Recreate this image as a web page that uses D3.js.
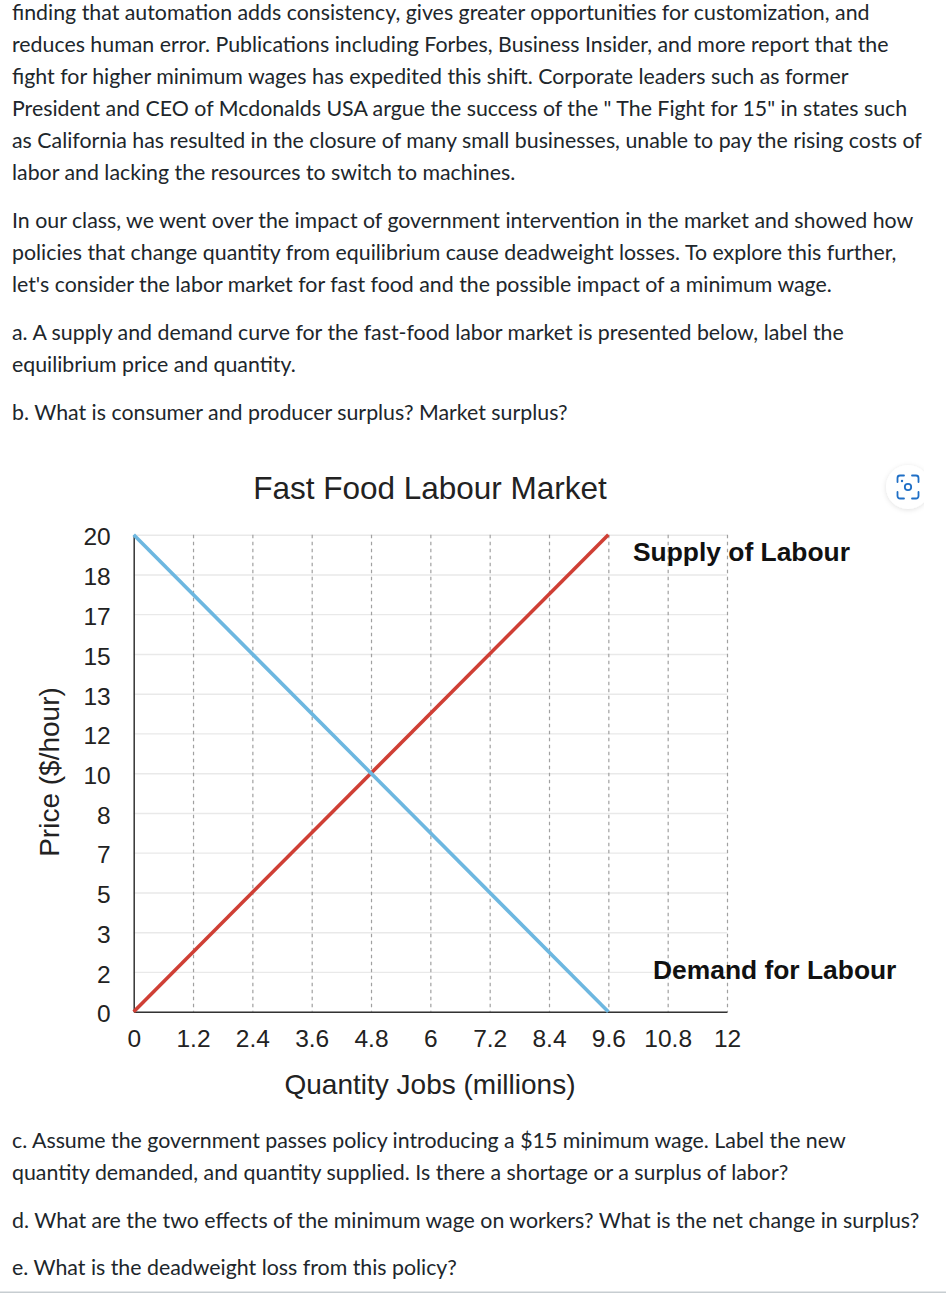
<!DOCTYPE html>
<html>
<head>
<meta charset="utf-8">
<script src="https://cdn.jsdelivr.net/npm/d3@7"></script>
<style>
  html, body { margin: 0; padding: 0; background: #fff; }
  svg { display: block; }
  .para { font-family: Lato, sans-serif; font-size: 21.33px; fill: #20262b; }
  .chart text { font-family: "Liberation Sans", Arial, sans-serif; fill: #222; }
</style>
</head>
<body>
<svg id="page" width="946" height="1296"></svg>
<script>
// Values
const quantityTicks = [0, 1.2, 2.4, 3.6, 4.8, 6, 7.2, 8.4, 9.6, 10.8, 12];
const priceTicks = [0, 1.67, 3.33, 5, 6.67, 8.33, 10, 11.67, 13.33, 15, 16.67, 18.33, 20];
const supplyQuantity = [0, 9.6];
const supplyPrice = [0, 20];
const demandQuantity = [0, 9.6];
const demandPrice = [20, 0];

// The question text around the chart, one list per paragraph
const paragraphsAbove = [
  [
    "finding that automation adds consistency, gives greater opportunities for customization, and",
    "reduces human error. Publications including Forbes, Business Insider, and more report that the",
    "fight for higher minimum wages has expedited this shift. Corporate leaders such as former",
    "President and CEO of Mcdonalds USA argue the success of the \" The Fight for 15\" in states such",
    "as California has resulted in the closure of many small businesses, unable to pay the rising costs of",
    "labor and lacking the resources to switch to machines."
  ],
  [
    "In our class, we went over the impact of government intervention in the market and showed how",
    "policies that change quantity from equilibrium cause deadweight losses. To explore this further,",
    "let's consider the labor market for fast food and the possible impact of a minimum wage."
  ],
  [
    "a. A supply and demand curve for the fast-food labor market is presented below, label the",
    "equilibrium price and quantity."
  ],
  [
    "b. What is consumer and producer surplus? Market surplus?"
  ]
];
const paragraphsBelow = [
  [
    "c. Assume the government passes policy introducing a $15 minimum wage. Label the new",
    "quantity demanded, and quantity supplied. Is there a shortage or a surplus of labor?"
  ],
  [
    "d. What are the two effects of the minimum wage on workers? What is the net change in surplus?"
  ]
];
const lastLine = "e. What is the deadweight loss from this policy?";

const svg = d3.select("#page");

// Paragraphs: 32px between lines, 48px between paragraphs
function drawParagraphs(paragraphs, firstBaseline) {
  let baseline = firstBaseline;
  paragraphs.forEach((lines) => {
    lines.forEach((line) => {
      svg.append("text").attr("class", "para")
        .attr("x", 12).attr("y", baseline)
        .text(line);
      baseline += 32;
    });
    baseline += 16;
  });
}
drawParagraphs(paragraphsAbove, 20);
drawParagraphs(paragraphsBelow, 1148);
svg.append("text").attr("class", "para").attr("x", 12).attr("y", 1275).text(lastLine);

// Rule at the bottom of the page
svg.append("rect").attr("x", 0).attr("y", 1291.5).attr("width", 946).attr("height", 1.5).attr("fill", "#c7cdd1");

// Chart
const plotLeft = 133.7, plotRight = 727, plotTop = 534.7, plotBottom = 1011.7;
const x = d3.scaleLinear().domain([0, 12]).range([plotLeft, plotRight]);
const y = d3.scaleLinear().domain([0, 20]).range([plotBottom, plotTop]);
const chart = svg.append("g").attr("class", "chart");

// Horizontal grid
const yGrid = chart.append("g")
  .attr("transform", `translate(${plotLeft},0)`)
  .call(d3.axisRight(y).tickValues(priceTicks).tickSize(plotRight - plotLeft).tickFormat(""));
yGrid.select(".domain").remove();
yGrid.selectAll("line").attr("stroke", "#e9e9e9").attr("stroke-width", 1.4);

// Vertical dashed grid
const xGrid = chart.append("g")
  .attr("transform", `translate(0,${plotTop})`)
  .call(d3.axisBottom(x).tickValues(quantityTicks.slice(1)).tickSize(plotBottom - plotTop).tickFormat(""));
xGrid.select(".domain").remove();
xGrid.selectAll("line").attr("stroke", "#a0a0a0").attr("stroke-width", 1.2).attr("stroke-dasharray", "3.5 3.5");

// Axes
const yAxis = chart.append("g")
  .attr("transform", `translate(${plotLeft},0)`)
  .call(d3.axisLeft(y).tickValues(priceTicks).tickSize(0).tickPadding(23).tickFormat(d3.format(".0f")));
yAxis.select(".domain").attr("stroke", "#333").attr("stroke-width", 1.5);
yAxis.selectAll("text").attr("font-size", 24.5).attr("dy", "0.42em");

const xAxis = chart.append("g")
  .attr("transform", `translate(0,${plotBottom})`)
  .call(d3.axisBottom(x).tickValues(quantityTicks).tickSize(0).tickPadding(18).tickFormat(d3.format("")));
xAxis.select(".domain").attr("stroke", "#333").attr("stroke-width", 1.5);
xAxis.selectAll("text").attr("font-size", 24.5);

// Supply and demand lines
const curve = d3.line().x(d => x(d[0])).y(d => y(d[1]));
chart.append("path")
  .attr("d", curve(d3.zip(supplyQuantity, supplyPrice)))
  .attr("fill", "none").attr("stroke", "#cf3f35").attr("stroke-width", 3.6);
chart.append("path")
  .attr("d", curve(d3.zip(demandQuantity, demandPrice)))
  .attr("fill", "none").attr("stroke", "#6db7e0").attr("stroke-width", 3.6);

// Titles and curve labels
chart.append("text").attr("x", 430).attr("y", 499).attr("text-anchor", "middle")
  .attr("font-size", 31.5).text("Fast Food Labour Market");
chart.append("text").attr("x", 430).attr("y", 1094).attr("text-anchor", "middle")
  .attr("font-size", 28).text("Quantity Jobs (millions)");
chart.append("text").attr("transform", "translate(59,772) rotate(-90)").attr("text-anchor", "middle")
  .attr("font-size", 28).text("Price ($/hour)");
chart.append("text").attr("x", 633).attr("y", 561).attr("font-size", 26.4).attr("font-weight", "bold")
  .style("fill", "#111").text("Supply of Labour");
chart.append("text").attr("x", 653).attr("y", 979).attr("font-size", 26.4).attr("font-weight", "bold")
  .style("fill", "#111").text("Demand for Labour");

// Lens button over the picture
const defs = svg.append("defs");
defs.append("filter").attr("id", "soft").attr("x", "-30%").attr("y", "-30%").attr("width", "160%").attr("height", "160%")
  .append("feDropShadow").attr("dx", 0).attr("dy", 1).attr("stdDeviation", 2.5).attr("flood-color", "#000").attr("flood-opacity", 0.12);
defs.append("clipPath").attr("id", "lens-clip").append("rect").attr("x", 860).attr("y", 450).attr("width", 64).attr("height", 80);
const lens = svg.append("g").attr("clip-path", "url(#lens-clip)");
lens.append("circle").attr("cx", 908).attr("cy", 487).attr("r", 22).attr("fill", "#fff").attr("filter", "url(#soft)");
const lensIcon = lens.append("g").attr("fill", "none").attr("stroke", "#1f6fc6").attr("stroke-width", 1.8).attr("stroke-linecap", "round");
lensIcon.append("path").attr("d", "M897.5 482v-4a2.5 2.5 0 0 1 2.5-2.5h4");
lensIcon.append("path").attr("d", "M912 475.5h4a2.5 2.5 0 0 1 2.5 2.5v4");
lensIcon.append("path").attr("d", "M918.5 492v4a2.5 2.5 0 0 1-2.5 2.5h-4");
lensIcon.append("path").attr("d", "M904 498.5h-4a2.5 2.5 0 0 1-2.5-2.5v-4");
lensIcon.append("circle").attr("cx", 908).attr("cy", 487).attr("r", 3.2);
lens.append("circle").attr("cx", 902).attr("cy", 481).attr("r", 1.2).attr("fill", "#1f6fc6");
</script>
</body>
</html>
